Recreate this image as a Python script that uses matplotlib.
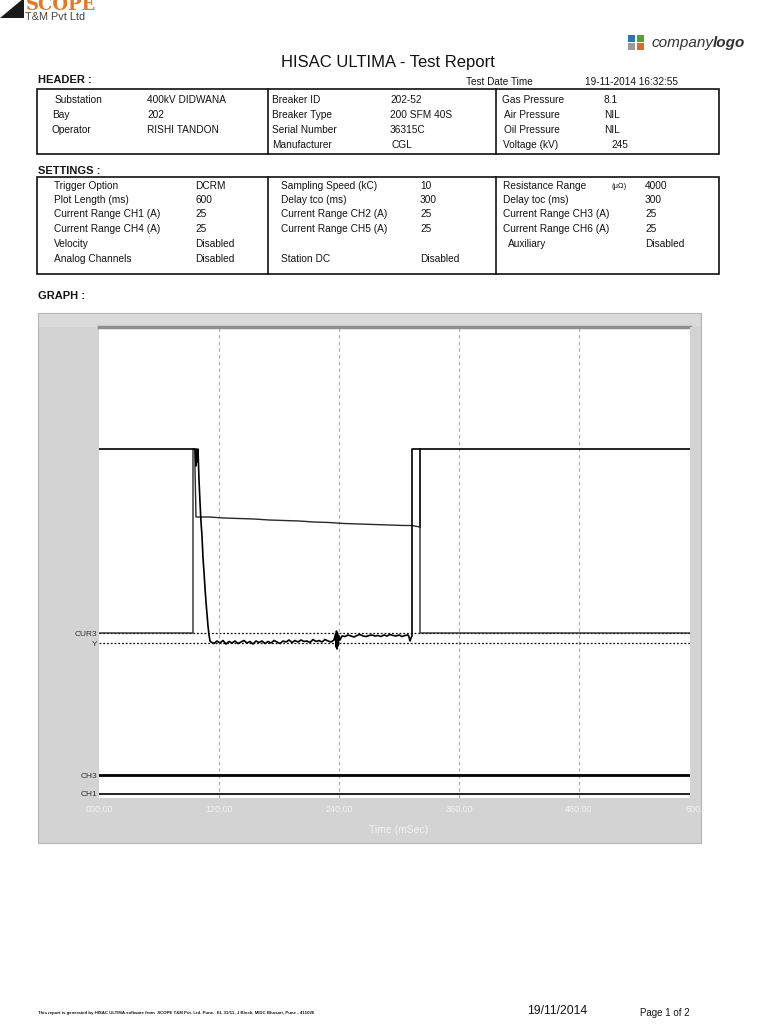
import matplotlib
matplotlib.use("Agg")
import matplotlib.pyplot as plt
from matplotlib.patches import Rectangle, Polygon
from matplotlib.transforms import Bbox, TransformedBbox

plt.rcParams['font.family'] = ['Liberation Sans', 'DejaVu Sans']

# ---------------- data ----------------
header_rows = [
    ["Substation", "400kV DIDWANA", "Breaker ID", "202-52", "Gas Pressure", "8.1"],
    ["Bay", "202", "Breaker Type", "200 SFM 40S", "Air Pressure", "NIL"],
    ["Operator", "RISHI TANDON", "Serial Number", "36315C", "Oil Pressure", "NIL"],
    ["", "", "Manufacturer", "CGL", "Voltage (kV)", "245"],
]
settings_rows = [
    ["Trigger Option", "DCRM", "Sampling Speed (kC)", "10", "Resistance Range", "4000"],
    ["Plot Length (ms)", "600", "Delay tco (ms)", "300", "Delay toc (ms)", "300"],
    ["Current Range CH1 (A)", "25", "Current Range CH2 (A)", "25", "Current Range CH3 (A)", "25"],
    ["Current Range CH4 (A)", "25", "Current Range CH5 (A)", "25", "Current Range CH6 (A)", "25"],
    ["Velocity", "Disabled", "", "", "Auxiliary", "Disabled"],
    ["Analog Channels", "Disabled", "Station DC", "Disabled", "", ""],
]
test_date_time = "19-11-2014 16:32:55"

x_ticks = [0, 120, 240, 360, 480, 600]
x_tick_labels = ["000.00", "120.00", "240.00", "360.00", "480.00", "600.00"]
y_ticks = [165, 155, 23, 4]
y_tick_labels = ["CUR3", "Y", "CH3", "CH1"]

# resistance trace (time ms, level)
res_t = [0, 96, 97, 97.5, 98.5, 99, 100, 101, 102, 103, 104, 105, 106, 107, 108, 109, 110, 111,
         112, 115, 118, 121, 124, 127, 130, 133, 136, 139, 142, 145, 148, 151, 154, 157, 160,
         163, 166, 169, 172, 175, 178, 181, 184, 187, 190, 193, 196, 199, 202, 205, 208, 211,
         214, 217, 220, 223, 226, 229, 232, 235,
         236.5, 237, 237.5, 238, 238.5, 239, 240, 241,
         243, 246, 249, 252, 255, 258, 261, 264, 267, 270, 273, 276, 279, 282, 285, 288, 291,
         294, 297, 300, 303, 306, 309,
         310, 311, 312, 313, 313, 591]
res_v = [349, 349, 332, 349, 336, 349, 318, 296, 276, 262, 240, 226, 210, 196, 184, 172, 163, 157,
         156, 154.5, 157, 155, 157.5, 154, 156.5, 155, 157, 154.5, 156, 157.5, 155, 156.5, 154, 157,
         155.5, 157, 154.5, 156.5, 155, 157.5, 156, 154.5, 157, 156, 158, 155.5, 157.5, 156, 158,
         156.5, 157, 155.5, 158.5, 156.5, 157.5, 156, 158.5, 157, 156, 158,
         164, 151, 167, 149, 165, 152, 162, 158,
         162, 161.5, 163, 162, 161, 162.5, 163.5, 162, 161.5, 162.5, 163, 162, 162.5, 161.5, 163,
         162, 163.5, 162.5, 162, 163, 161.5, 162.5, 163,
         161, 157, 160, 162, 349, 349]

# current trace
cur_t = [0, 94, 94, 96, 96, 97, 110, 125, 140, 155, 170, 185, 200, 215, 230, 245, 260, 275,
         290, 305, 313, 321, 321, 321, 591]
cur_v = [165, 165, 349, 349, 330, 281, 281, 280, 279.5, 279, 278, 277.5, 277, 276, 275.5,
         274.5, 274, 273.5, 273, 272.5, 272.5, 271, 349, 165, 165]

cursor_cur3 = 165
cursor_y = 155
ch3_level = 23
ch1_level = 4
t_end = 591

# ---------------- figure ----------------
W, H = 768, 1024
fig = plt.figure(figsize=(W / 100, H / 100), dpi=100)
fig.patch.set_facecolor("white")

ov = fig.add_axes([0, 0, 1, 1], zorder=0)
ov.set_xlim(0, W)
ov.set_ylim(H, 0)
ov.axis("off")


def T(x, y, s, size=7.5, weight="normal", color="#141414", ha="left", va="center", **kw):
    return ov.text(x, y, s, fontsize=size, fontweight=weight, color=color, ha=ha, va=va, **kw)


# logos
ov.add_patch(Polygon([[0, 18], [24, 18], [24, -2]], closed=True, facecolor="#1a1a1a", edgecolor="none"))
T(26, 10, "SCOPE", size=13, weight="bold", color="#e87722", va="baseline", family="DejaVu Serif")
T(25, 12, "T&M Pvt Ltd", size=7.8, color="#444444", va="top")
for (sx, sy, c) in [(628, 35, "#2f73b8"), (637, 35, "#5a9e34"), (628, 43, "#9a9a9a"), (637, 43, "#d8692f")]:
    ov.add_patch(Rectangle((sx, sy), 7, 7, facecolor=c, edgecolor="none"))
T(713, 43, "company", size=11, style="italic", color="#333333", ha="right")
T(713, 43, "logo", size=11, style="italic", weight="bold", color="#333333")

# title
T(388, 62, "HISAC ULTIMA - Test Report", size=12, ha="center", color="#111111")

# header
T(38, 80, "HEADER :", size=8, weight="bold")
T(466, 82, "Test Date Time", size=7.2)
T(585, 82, test_date_time, size=7.2)
ov.add_patch(Rectangle((37, 89), 682, 65, facecolor="none", edgecolor="#111111", lw=1.2))
for xd in (268, 496):
    ov.plot([xd, xd], [89, 154], color="#111111", lw=1.2)
hdr_x = [[55, 147, 272, 390, 502, 604], [52, 147, 272, 390, 504, 604],
         [52, 147, 272, 390, 504, 604], [52, 147, 272, 392, 503, 611]]
hdr_y = [100, 115, 130, 145]
for r, row in enumerate(header_rows):
    for c, s in enumerate(row):
        if s:
            T(hdr_x[r][c], hdr_y[r], s, size=7.3)

# settings
T(38, 171, "SETTINGS :", size=8, weight="bold")
ov.add_patch(Rectangle((37, 177), 682, 97, facecolor="none", edgecolor="#111111", lw=1.2))
for xd in (268, 496):
    ov.plot([xd, xd], [177, 274], color="#111111", lw=1.2)
set_x = [54, 195, 281, 420, 503, 645]
set_y = [186, 200, 214, 229, 244, 259]
for r, row in enumerate(settings_rows):
    for c, s in enumerate(row):
        if s:
            xx = set_x[c]
            if s == "Auxiliary":
                xx = 508
            T(xx, set_y[r], s, size=7.3)
T(612, 186, "(\u03bc\u03a9)", size=5.5)

# graph panel
T(38, 296, "GRAPH :", size=8, weight="bold")
ov.add_patch(Rectangle((38, 313), 663, 530, facecolor="#d3d3d3", edgecolor="#b4b4b4", lw=0.8))
ov.add_patch(Rectangle((39, 314), 661, 13, facecolor="#dadada", edgecolor="none"))

# footer
T(38, 1013, "This report is generated by HISAC ULTIMA software from  SCOPE T&M Pvt. Ltd. Pune.  EL 31/11, J Block, MIDC Bhosari, Pune - 411026",
  size=3.2, weight="bold")
T(527, 1011, "19/11/2014", size=8.7)
T(640, 1013, "Page 1 of 2", size=7)

# chart axes (t=0 at px 99, t=600 at px 699; white area ends at t_end)
left, right, top, bottom = 99, 699, 327, 798
ax = fig.add_axes([left / W, 1 - bottom / H, (right - left) / W, (bottom - top) / H], zorder=1)
ax.set_facecolor("white")

for xg in x_ticks[1:-1]:
    ax.axvline(xg, color="#a8a8a8", lw=0.8, ls=(0, (3, 3)), zorder=1)

ax.plot([0, t_end], [cursor_cur3, cursor_cur3], color="#111111", lw=0.9, ls=(0, (1.5, 1.5)), zorder=2)
ax.plot([0, t_end], [cursor_y, cursor_y], color="#111111", lw=0.9, ls=(0, (1.5, 1.5)), zorder=2)
ax.plot([0, t_end], [ch3_level, ch3_level], color="#000000", lw=2.0, zorder=3)
ax.plot([0, t_end], [ch1_level, ch1_level], color="#222222", lw=1.4, zorder=3)

ax.plot(cur_t, cur_v, color="#2a2a2a", lw=1.0, zorder=4)
ax.plot(res_t, res_v, color="#000000", lw=1.2, zorder=5)

# grey strip right of the white plotting area
ax.add_patch(Rectangle((t_end, 0), 600 - t_end, 1, transform=ax.get_xaxis_transform(),
                       facecolor="#d3d3d3", edgecolor="none", zorder=6))

for s in ("left", "right", "bottom"):
    ax.spines[s].set_visible(False)
ax.spines["top"].set_color("#8e8e8e")
ax.spines["top"].set_linewidth(2.5)
ax.spines["top"].set_bounds(0, t_end)

ax.set_xticks(x_ticks)
ax.set_xticklabels(x_tick_labels, fontsize=6.5, color="#f2f2f2")
ax.set_yticks(y_ticks)
ax.set_yticklabels(y_tick_labels, fontsize=6, color="#333333")
ax.set_xlim(0, 600)
ax.set_ylim(0, bottom - top)
ax.tick_params(axis="x", length=0, pad=5)
ax.tick_params(axis="y", length=0, pad=1)
ax.set_xlabel("Time (mSec)", fontsize=7.5, color="#f2f2f2", labelpad=8)

panel_clip = TransformedBbox(Bbox([[38, 313], [704, 843]]), ov.transData)
for lbl in ax.get_xticklabels():
    lbl.set_clip_on(True)
    lbl.set_clip_box(panel_clip)

fig.savefig("out.png", dpi=100, facecolor="white")
